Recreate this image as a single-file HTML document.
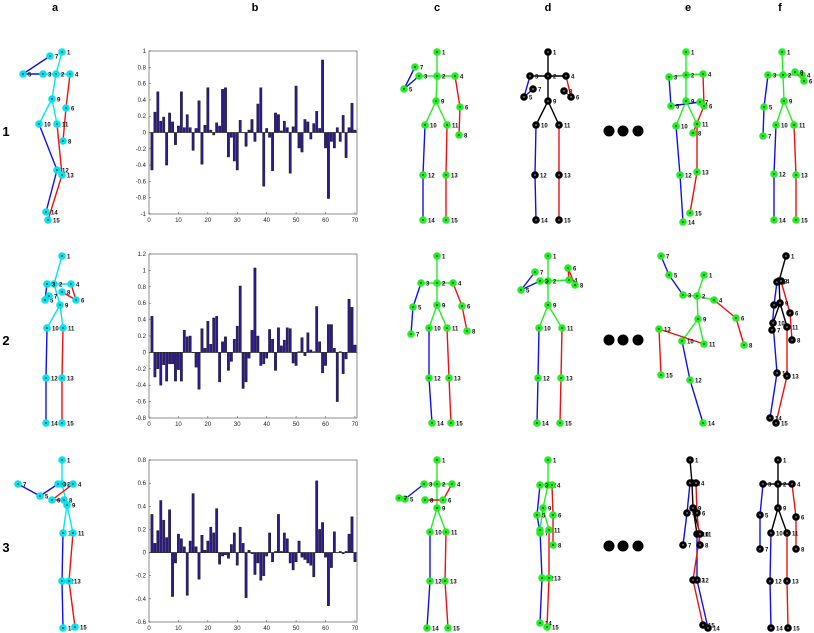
<!DOCTYPE html>
<html><head><meta charset="utf-8"><style>
body{margin:0;background:#fff;}
svg{display:block;font-family:"Liberation Sans",sans-serif;}
</style></head><body>
<svg id="fig" width="814" height="633" viewBox="0 0 814 633">
<g font-size="11" font-weight="bold" text-anchor="middle">
<text x="55" y="11">a</text>
<text x="255" y="11">b</text>
<text x="437" y="11">c</text>
<text x="548" y="11">d</text>
<text x="688" y="11">e</text>
<text x="780" y="11">f</text>
</g>
<g font-size="13" font-weight="bold" text-anchor="middle">
<text x="6" y="136">1</text>
<text x="6" y="345">2</text>
<text x="6" y="552">3</text>
</g>
<g fill="#000">
<circle cx="609" cy="131" r="5.5"/><circle cx="623" cy="131" r="5.5"/><circle cx="638" cy="131" r="5.5"/>
<circle cx="609" cy="340" r="5.5"/><circle cx="623" cy="340" r="5.5"/><circle cx="638" cy="340" r="5.5"/>
<circle cx="609" cy="546" r="5.5"/><circle cx="623" cy="546" r="5.5"/><circle cx="638" cy="546" r="5.5"/>
</g>
</svg>
<script>
const cats=[];for(let i=1;i<=70;i++)cats.push(i);
const vals1=[-0.46,0.25,0.50,0.14,0.19,-0.40,0.24,0.13,-0.15,0.08,0.50,0.06,0.22,0.06,-0.22,0.05,0.39,-0.39,0.09,0.55,0.03,-0.03,0.12,0.08,0.53,0.55,-0.30,-0.06,-0.35,-0.46,0.15,0,-0.17,0.03,0.16,-0.11,0.35,0.55,-0.66,0.05,-0.06,-0.47,0.24,0.22,0.02,0.14,0.06,-0.50,0.07,0.57,-0.19,-0.24,0.16,0.13,-0.08,0.11,0.26,0.05,0.89,-0.19,-0.81,-0.11,-0.19,0.06,-0.11,0.21,-0.31,0.06,0.36,0.03];
const vals2=[0.44,-0.30,-0.20,-0.40,-0.15,-0.35,-0.14,-0.14,-0.35,-0.21,-0.35,0.27,0.19,0.20,0,-0.18,-0.45,0.29,0.05,0.38,0.10,0.42,0.44,-0.36,0.13,0.19,-0.22,-0.11,0.16,0.32,0.81,-0.44,-0.36,-0.07,0.27,1.03,0.20,-0.16,-0.14,-0.07,0.28,0.16,-0.22,0.30,0.08,0.15,0.30,0.29,-0.13,-0.16,0.01,0.18,-0.04,0.24,0.03,0.01,0.56,0.13,-0.25,-0.16,0.34,0.34,0.05,-0.60,0.01,-0.26,-0.08,0.65,0.55,0.09];
const vals3=[0.33,0.08,0.19,0.45,0.28,0.13,0.37,-0.38,-0.09,0.16,0.12,0.05,-0.37,0.10,0.51,0.05,-0.23,0.15,0.02,0.10,0.22,0.17,0.38,-0.10,-0.03,-0.02,-0.05,0.07,0.17,-0.11,0.22,0.08,-0.39,0.02,-0.01,-0.19,-0.09,-0.24,-0.20,-0.03,0.17,-0.08,0.01,0.33,0.01,0.17,0.12,-0.09,-0.15,-0.08,0.10,-0.04,-0.06,-0.09,-0.11,-0.21,0.62,0.20,0.26,-0.04,-0.46,-0.13,0.18,0,0.01,-0.01,0.01,0.16,0.31,-0.08];
const xTicks=[0,10,20,30,40,50,60,70];
const yTicks1=[-1,-0.8,-0.6,-0.4,-0.2,0,0.2,0.4,0.6,0.8,1];
const yTicks2=[-0.8,-0.6,-0.4,-0.2,0,0.2,0.4,0.6,0.8,1,1.2];
const yTicks3=[-0.6,-0.4,-0.2,0,0.2,0.4,0.6,0.8];

const NS="http://www.w3.org/2000/svg";
const svg=document.getElementById('fig');
function mk(tag,attrs,parent){const e=document.createElementNS(NS,tag);for(const k in attrs)e.setAttribute(k,attrs[k]);(parent||svg).appendChild(e);return e;}

function chart(name,vals,yt,top,bottom){
  const L=149,R=357,xmax=70.7,ymin=yt[0],ymax=yt[yt.length-1];
  const g=mk('g',{});
  
  
  const xs=v=>L+(v/xmax)*(R-L);
  const ys=v=>bottom-(v-ymin)/(ymax-ymin)*(bottom-top);
  const frame=mk('rect',{x:L,y:top,width:R-L,height:bottom-top,fill:'none',stroke:'#444','stroke-width':0.6},g);
  
  
  cats.forEach((c,i)=>{
    const v=vals[i],y0=ys(0),y1=ys(v);
    const b=mk('rect',{x:xs(c-0.4),y:Math.min(y0,y1),width:xs(0.8)-L,height:Math.max(Math.abs(y1-y0),0.3),fill:'#2e1a8e',stroke:'#111','stroke-width':0.4},g);
    
    
  });
  mk('line',{x1:L,x2:R,y1:ys(0),y2:ys(0),stroke:'#222','stroke-width':0.6},g);
  xTicks.forEach(t=>{
    mk('line',{x1:xs(t),x2:xs(t),y1:bottom,y2:bottom-2,stroke:'#444','stroke-width':0.5},g);
    const tx=mk('text',{x:xs(t),y:bottom+8,'font-size':6,'text-anchor':'middle',fill:'#222'},g);
    tx.textContent=t;
    
    
  });
  yt.forEach(t=>{
    mk('line',{x1:L,x2:L+2,y1:ys(t),y2:ys(t),stroke:'#444','stroke-width':0.5},g);
    const tx=mk('text',{x:L-3,y:ys(t)+2,'font-size':6,'text-anchor':'end',fill:'#222'},g);
    tx.textContent=String(t);
    
    
  });
}
chart('bar-chart-row1',vals1,yTicks1,51,214);
chart('bar-chart-row2',vals2,yTicks2,254,418);
chart('bar-chart-row3',vals3,yTicks3,460,622);

const bodyEdges=[[1,2],[2,3],[2,4],[2,9],[9,10],[9,11]];
const leftEdges=[[3,5],[5,7],[10,12],[12,14]];
const rightEdges=[[4,6],[6,8],[11,13],[13,15]];
const skels=[
 ['skeleton-a1','#00e5f0',[[62,52],[56,74],[43,74],[70,74],[23,74],[66,108],[50,56],[63,141],[52,99],[39,124],[57,124],[57,170],[62,175],[46,212],[48,220]]],
 ['skeleton-c1','#22ee22',[[437,52],[437,76],[419,76],[455,76],[404,89],[460,107],[415,67],[459,135],[436,101],[425,125],[447,125],[423,175],[446,175],[423,220],[446,220]]],
 ['skeleton-d1','#000',[[548,52],[548,76],[530,76],[566,76],[524,97],[571,97],[533,89],[564,91],[548,101],[536,125],[559,125],[535,175],[559,175],[536,220],[559,220]]],
 ['skeleton-e1','#22ee22',[[686,52],[686,75],[669,77],[703,74],[671,106],[704,106],[700,102],[693,133],[686,101],[676,126],[697,124],[680,175],[697,172],[683,222],[690,213]]],
 ['skeleton-f1','#22ee22',[[782,52],[783,75],[768,75],[802,75],[764,107],[804,81],[763,136],[795,72],[784,101],[776,125],[794,125],[774,174],[796,175],[774,220],[796,220]]],
 ['skeleton-a2','#00e5f0',[[62,256],[54,284],[47,284],[71,284],[45,300],[76,300],[49,296],[62,292],[60,305],[47,328],[63,328],[46,378],[62,378],[46,423],[62,423]]],
 ['skeleton-c2','#22ee22',[[437,256],[437,283],[421,283],[453,283],[413,307],[462,306],[411,334],[467,331],[437,305],[429,328],[447,328],[429,378],[449,378],[432,423],[451,423]]],
 ['skeleton-d2','#22ee22',[[548,256],[548,281],[540,281],[569,280],[521,290],[568,268],[535,272],[575,285],[548,305],[539,328],[562,328],[538,378],[561,378],[537,423],[560,423]]],
 ['skeleton-e2','#22ee22',[[704,275],[697,296],[683,295],[714,300],[669,275],[736,318],[661,256],[744,345],[698,319],[682,341],[704,344],[690,380],[659,329],[703,423],[661,375]]],
 ['skeleton-f2','#000',[[786,256],[779,281],[777,282],[781,281],[774,305],[790,313],[772,330],[792,340],[780,303],[773,323],[787,327],[777,373],[787,376],[770,418],[776,423]]],
 ['skeleton-a3','#00e5f0',[[62,460],[62,484],[58,484],[73,484],[40,496],[52,500],[18,484],[64,500],[67,505],[63,533],[73,533],[62,581],[69,581],[63,628],[75,627]]],
 ['skeleton-c3','#22ee22',[[437,460],[437,484],[424,484],[452,484],[405,499],[443,500],[399,498],[425,500],[437,508],[430,532],[446,532],[430,581],[445,581],[427,628],[448,628]]],
 ['skeleton-d3','#22ee22',[[548,460],[548,485],[540,485],[552,485],[537,515],[553,515],[540,533],[553,545],[543,508],[540,530],[549,530],[542,578],[549,578],[540,623],[547,627]]],
 ['skeleton-e3','#000',[[690,460],[692,483],[690,483],[696,483],[687,513],[697,513],[683,545],[700,545],[693,508],[697,534],[700,534],[697,580],[693,580],[708,628],[703,625]]],
 ['skeleton-f3','#000',[[778,460],[778,484],[763,484],[792,484],[760,515],[796,517],[760,549],[796,549],[778,508],[771,533],[787,533],[770,581],[787,581],[771,628],[788,628]]]
];
skels.forEach(([name,col,J])=>{
  const g=mk('g',{});
  
  
  const P=i=>J[i-1];
  const line=(e,c)=>mk('line',{x1:P(e[0])[0],y1:P(e[0])[1],x2:P(e[1])[0],y2:P(e[1])[1],stroke:c,'stroke-width':1.4},g);
  bodyEdges.forEach(e=>line(e,col));
  leftEdges.forEach(e=>line(e,'#1010ee'));
  rightEdges.forEach(e=>line(e,'#ee1010'));
  J.forEach((p,i)=>{
    const c=mk('circle',{cx:p[0],cy:p[1],r:3.3,fill:col,stroke:col,'stroke-width':1},g);
    
    
    mk('circle',{cx:p[0],cy:p[1],r:0.9,fill:col==='#000'?'#888':'#222'},g);
    const t=mk('text',{x:p[0]+5,y:p[1]+2.5,'font-size':6,'font-weight':'bold',fill:'#111'},g);
    t.textContent=i+1;
    
    
  });
});
</script>
</body></html>
